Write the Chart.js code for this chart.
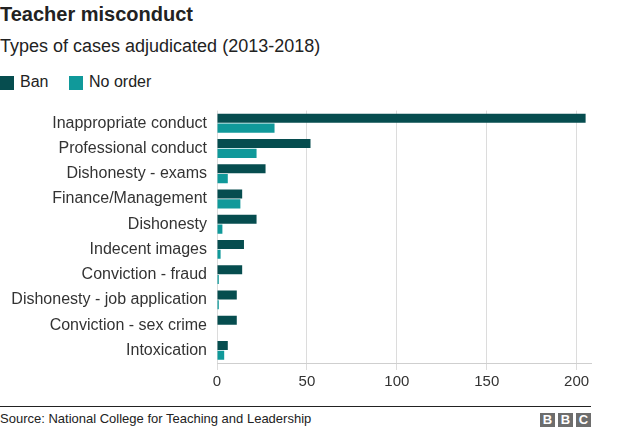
<!DOCTYPE html>
<html>
<head>
<meta charset="utf-8">
<script src="https://cdn.jsdelivr.net/npm/chart.js@4"></script>
<style>
  html, body { margin: 0; padding: 0; background: #fff; }
  body { width: 624px; height: 431px; position: relative; overflow: hidden; font-family: "Liberation Sans", Arial, Helvetica, sans-serif; color: #222; }
  #title { position: absolute; left: 0; top: 3px; font-size: 20px; font-weight: bold; color: #222; }
  #subtitle { position: absolute; left: 0; top: 36px; font-size: 18px; color: #222; }
  .leg { position: absolute; top: 73px; font-size: 16px; color: #222; }
  .sw { position: absolute; width: 14px; height: 14px; top: 76px; }
  #wrap { position: absolute; left: 0; top: 91px; width: 624px; height: 304px; }
  #rule { position: absolute; left: 0; top: 406px; width: 591px; height: 1px; background: #222; }
  #source { position: absolute; left: 0; top: 411px; font-size: 13px; color: #222; }
  .bbc { position: absolute; top: 413px; width: 15px; height: 14px; background: #6d6d6d; color: #fff; font-size: 13px; font-weight: bold; text-align: center; line-height: 14px; }
</style>
</head>
<body>
<div id="title">Teacher misconduct</div>
<div id="subtitle">Types of cases adjudicated (2013-2018)</div>
<div class="sw" style="left:0;background:#064d4f"></div>
<div class="leg" style="left:20px">Ban</div>
<div class="sw" style="left:69px;background:#10999a"></div>
<div class="leg" style="left:89px">No order</div>
<div id="wrap"><canvas id="c"></canvas></div>
<div id="rule"></div>
<div id="source">Source: National College for Teaching and Leadership</div>
<div class="bbc" style="left:540px">B</div>
<div class="bbc" style="left:558px">B</div>
<div class="bbc" style="left:576px">C</div>
<script>
const categories = [
  "Inappropriate conduct",
  "Professional conduct",
  "Dishonesty - exams",
  "Finance/Management",
  "Dishonesty",
  "Indecent images",
  "Conviction - fraud",
  "Dishonesty - job application",
  "Conviction - sex crime",
  "Intoxication"
];
const banValues     = [205, 52, 27, 14, 22, 15, 14, 11, 11, 6];
const noOrderValues = [32, 22, 6, 13, 3, 2, 1, 1, 0, 4];
const xTicks = [0, 50, 100, 150, 200];

new Chart(document.getElementById('c'), {
  type: 'bar',
  data: {
    labels: categories,
    datasets: [
      { label: 'Ban', data: banValues, backgroundColor: '#064d4f', barPercentage: 0.92, categoryPercentage: 0.78 },
      { label: 'No order', data: noOrderValues, backgroundColor: '#10999a', barPercentage: 0.92, categoryPercentage: 0.78 }
    ]
  },
  options: {
    indexAxis: 'y',
    responsive: true,
    maintainAspectRatio: false,
    animation: false,
    layout: { padding: { top: 0, right: 33, bottom: 0, left: 0 } },
    plugins: { legend: { display: false }, tooltip: { enabled: false } },
    scales: {
      x: {
        min: 0, max: 208,
        afterBuildTicks: (s) => { s.ticks = xTicks.map(v => ({ value: v })); },
        afterFit: (s) => { s.height = 32; },
        grid: { color: '#dcdcdc', lineWidth: 1, tickLength: 7, drawOnChartArea: true },
        border: { display: true, color: '#cfcfcf' },
        ticks: { color: '#333', font: { family: 'Liberation Sans', size: 15 }, padding: 3, maxRotation: 0 }
      },
      y: {
        afterFit: (s) => { s.width = 217; },
        grid: { display: false, drawTicks: false },
        border: { display: false },
        ticks: { color: '#333', font: { family: 'Liberation Sans', size: 16 }, padding: 10, autoSkip: false }
      }
    }
  }
});
</script>
</body>
</html>
